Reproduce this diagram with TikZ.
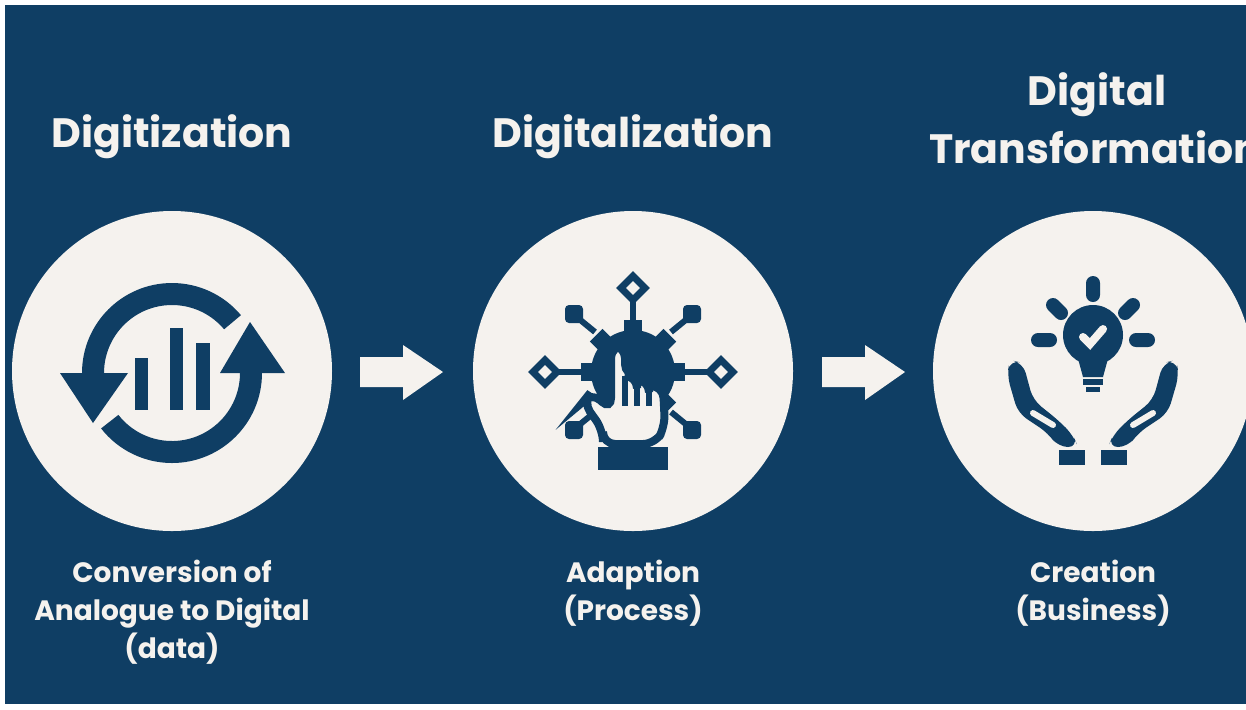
\documentclass[tikz,border=0pt]{standalone}
\usepackage{fontspec}
\setmainfont{Poppins}
\begin{document}
\begin{tikzpicture}[x=0.5pt,y=-0.5pt,
  disc/.style={circle,fill=cream,minimum size=160pt,inner sep=0},
  ttl/.style={text=cream,font=\fontsize{20.5}{25}\selectfont\bfseries,align=center},
  sub/.style={text=cream,font=\fontsize{14}{19}\selectfont\bfseries,align=center,anchor=north},
  icon/.style={fill=navy,draw=none},
  blk/.style={fill=cream,draw=none}]
\definecolor{navy}{HTML}{0F3E64}
\definecolor{cream}{HTML}{F5F2EE}
\useasboundingbox (0,0) rectangle (1246,709);
\fill[white] (0,0) rectangle (1246,709);
\fill[navy] (5,5) rectangle (1246,704);
\begin{scope}
\clip (5,5) rectangle (1246,704);
\node[disc] (c1) at (172,371) {};
\node[disc] (c2) at (633,371) {};
\node[disc] (c3) at (1093,371) {};
\node[ttl] (t1) at (172,137) {Digitization};
\node[ttl] (t2) at (633,137) {Digitalization};
\node[ttl] (t3a) at (1097,95) {Digital};
\node[ttl,anchor=west] (t3b) at (922,147) {Transformation};
\end{scope}
\node[sub] (s1) at (172,553) {Conversion of\\Analogue to Digital\\(data)};
\node[sub] (s2) at (633,553) {Adaption\\(Process)};
\node[sub] (s3) at (1093,553) {Creation\\(Business)};
% block arrows
\fill[blk] (360,357) -- (403,357) -- (403,345) -- (443,372) -- (403,400) -- (403,387) -- (360,387) -- cycle;
\fill[blk] (822,357) -- (865,357) -- (865,345) -- (905,372) -- (865,400) -- (865,387) -- (822,387) -- cycle;
% icon 1
\begin{scope}[shift={(172,373)}]
\fill[icon] (180:90) arc[start angle=180,end angle=320,radius=90] -- (320:68) arc[start angle=320,end angle=180,radius=68] -- cycle;
\fill[icon] (0:90) arc[start angle=0,end angle=142,radius=90] -- (142:68) arc[start angle=142,end angle=0,radius=68] -- cycle;
\fill[icon] (-112,0) -- (-44,0) -- (-79,50) -- cycle;
\fill[icon] (48,0) -- (113,0) -- (78,-51) -- cycle;
\fill[icon] (-37,-15) rectangle (-24,37);
\fill[icon] (-2,-45) rectangle (11,37);
\fill[icon] (24,-30) rectangle (38,37);
\end{scope}
% icon 2
\begin{scope}[shift={(633,372)}]
\foreach \a in {0,45,...,315}{\fill[icon,rotate=\a] (-9,-52) rectangle (9,-36);}
\fill[icon] (0,0) circle[radius=42];
\foreach \sx/\sy in {-1/-1,1/-1,-1/1,1/1}{
  \draw[navy,line width=3] (60*\sx,58*\sy) -- (38*\sx,40*\sy);
  \fill[icon,rounded corners=2] (59*\sx-9,58*\sy-9) rectangle (59*\sx+9,58*\sy+9);}
\draw[navy,line width=3] (0,-70) -- (0,-45) (-75,0) -- (-48,0) (75,0) -- (48,0);
\foreach \cx/\cy in {0/-84,-88/0,88/0}{\draw[navy,line width=3.5,fill=cream] (\cx,\cy-12) -- (\cx+12,\cy) -- (\cx,\cy+12) -- (\cx-12,\cy) -- cycle;}
% hand
\draw[navy,fill=cream,line width=4,rounded corners=6] (-30,72) -- (-30,58) -- (-50,30) -- (-42,20) -- (-22,38) -- (-22,-26) -- (-8,-26) -- (-8,4) -- (4,4) -- (4,8) -- (16,8) -- (16,14) -- (30,14) -- (32,55) -- (22,72) -- cycle;
\draw[navy,line width=3] (-8,4) -- (-8,34) (4,8) -- (4,34) (16,14) -- (16,34);
\fill[icon] (-35,75) rectangle (35,98);
\end{scope}
% icon 3
\begin{scope}[shift={(1093,335)}]
\fill[icon] (0,0) circle[radius=30];
\fill[icon] (-16,20) -- (16,20) -- (10,42) -- (-10,42) -- cycle;
\fill[icon] (-10,44) rectangle (10,50);
\fill[icon] (-7,52) rectangle (7,57);
\draw[cream,line width=4,line cap=round] (-10,2) -- (-3,9) -- (10,-6);
\draw[navy,line width=7,line cap=round] (0,-52) -- (0,-40) (-40,-30) -- (-32,-22) (40,-30) -- (32,-22) (-55,5) -- (-43,5) (55,5) -- (43,5);
\fill[icon,rounded corners=5] (-83,25) -- (-70,28) -- (-60,65) -- (-35,85) -- (-20,100) -- (-15,112) -- (-35,112) -- (-45,98) -- (-75,78) -- (-86,40) -- cycle;
\fill[icon,rounded corners=5] (83,25) -- (70,28) -- (60,65) -- (35,85) -- (20,100) -- (15,112) -- (35,112) -- (45,98) -- (75,78) -- (86,40) -- cycle;
\draw[cream,line width=3,line cap=round] (-60,78) -- (-40,90) (60,78) -- (40,90);
\fill[icon] (-34,115) rectangle (-8,130);
\fill[icon] (8,115) rectangle (34,130);
\end{scope}
\end{tikzpicture}
\end{document}
